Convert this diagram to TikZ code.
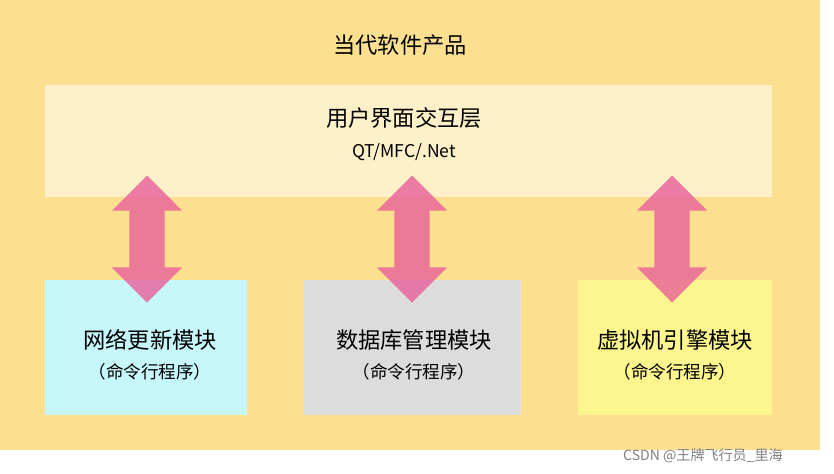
\documentclass[tikz,border=0pt]{standalone}
\usepackage{fontspec}
\setmainfont{Noto Sans CJK SC}
\usetikzlibrary{shapes.arrows}
\definecolor{bgyellow}{HTML}{FDE08F}
\definecolor{layer}{HTML}{FEF0C8}
\definecolor{netbox}{HTML}{C6F7FB}
\definecolor{dbbox}{HTML}{DCDCDC}
\definecolor{vmbox}{HTML}{FDF68E}
\definecolor{pinkarrow}{HTML}{E8609A}
\begin{document}
\begin{tikzpicture}[
    x=0.03cm, y=-0.03cm,
    module/.style={rectangle, minimum width=6.06cm, minimum height=4.05cm, inner sep=0pt},
    title/.style={font=\fontsize{19}{23}\selectfont},
    sub/.style={font=\fontsize{15}{18}\selectfont},
    dblarrow/.style={double arrow, rotate=90, fill=pinkarrow, fill opacity=0.8, minimum height=3.81cm, minimum width=2.1cm, double arrow head extend=0.525cm, double arrow tip angle=90, inner xsep=0pt, inner ysep=0.525cm}
]
\useasboundingbox (0,0) rectangle (834,474);

% background
\fill[bgyellow] (0,0) rectangle (820,450);
\node[title] (product) at (400,45) {当代软件产品};

% user interface layer
\node[rectangle, fill=layer, minimum width=21.81cm, minimum height=3.36cm, inner sep=0pt] (ui) at (408.5,141) {};
\node[title] (uiname) at (404,118) {用户界面交互层};
\node[sub] (uitech) at (404,152) {QT/MFC/.Net};

% modules
\node[module, fill=netbox] (net) at (146,347.5) {};
\node[module, fill=dbbox, minimum width=6.51cm] (db) at (412.5,347.5) {};
\node[module, fill=vmbox, minimum width=5.82cm] (vm) at (675,347.5) {};

\node[title] (netname) at (150,340) {网络更新模块};
\node[sub] (netcmd) at (150,372) {（命令行程序）};
\node[title] (dbname) at (414,340) {数据库管理模块};
\node[sub] (dbcmd) at (414,372) {（命令行程序）};
\node[title] (vmname) at (675,340) {虚拟机引擎模块};
\node[sub] (vmcmd) at (675,372) {（命令行程序）};

% arrows
\node[dblarrow] (a1) at (147,239) {};
\node[dblarrow] (a2) at (412,239) {};
\node[dblarrow] (a3) at (672,239) {};

% watermark
\node[font=\fontsize{12}{14}\selectfont, text=gray] (mark) at (703,456) {CSDN @王牌飞行员\_里海};
\end{tikzpicture}
\end{document}
